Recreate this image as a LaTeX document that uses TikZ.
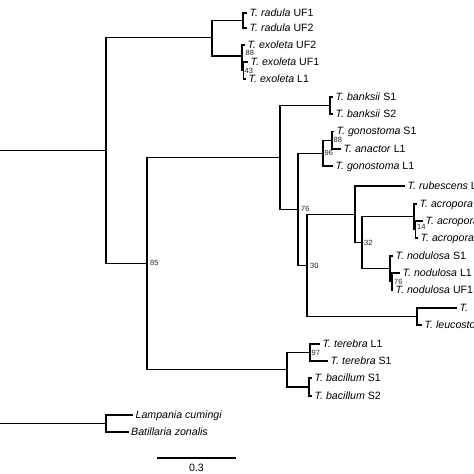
\documentclass[tikz,border=0pt]{standalone}
\usepackage{fontspec}
\setmainfont{Liberation Sans}
\usepackage{tikz}

\begin{document}
\begin{tikzpicture}[
    x=1pt, y=-1pt,
    branch/.style={draw, line width=1.25pt, line join=miter},
    taxon/.style={anchor=west, inner xsep=2.5pt, inner ysep=0pt, text height=7.5pt, text depth=1pt, font=\fontsize{10.6}{12}\selectfont},
    support/.style={anchor=west, inner sep=0pt, font=\fontsize{7.5}{9}\selectfont, text=black!85}
]

\useasboundingbox (0,0) rectangle (474,474);
\clip (0,0) rectangle (474,474);

%==============================================================================
% Root and outgroup
%==============================================================================
\coordinate (root) at (-3, 286.9);
\coordinate (ing) at (106, 150.4);
\coordinate (outg) at (106, 423.5);

\node[taxon] (lam) at (133, 415) {\textit{Lampania cumingi}};
\node[taxon] (bat) at (128.5, 432) {\textit{Batillaria zonalis}};

\draw[branch] (root) |- (ing);
\draw[branch] (root) |- (outg);
\draw[branch] (outg) |- (lam.west);
\draw[branch] (outg) |- (bat.west);

%==============================================================================
% T. radula / T. exoleta
%==============================================================================
\coordinate (radex) at (212, 37.5);
\coordinate (rad) at (243, 20.5);
\coordinate (exo) at (242, 56);
\coordinate (exin) at (243.5, 70.5);

\node[taxon] (rUF1) at (247, 13) {\textit{T. radula} UF1};
\node[taxon] (rUF2) at (247, 28) {\textit{T. radula} UF2};
\node[taxon] (eUF2) at (245, 45) {\textit{T. exoleta} UF2};
\node[taxon] (eUF1) at (248, 62) {\textit{T. exoleta} UF1};
\node[taxon] (eL1) at (246, 79) {\textit{T. exoleta} L1};

\draw[branch] (ing) |- (radex);
\draw[branch] (radex) |- (rad);
\draw[branch] (radex) |- (exo);
\draw[branch] (rad) |- (rUF1.west);
\draw[branch] (rad) |- (rUF2.west);
\draw[branch] (exo) |- (eUF2.west);
\draw[branch] (exo) |- (exin);
\draw[branch] (exin) |- (eUF1.west);
\draw[branch] (exin) |- (eL1.west);

\node[support, xshift=3.5pt, yshift=3pt] (s88e) at (exo) {88};
\node[support, xshift=1pt] (s43) at (exin) {43};

%==============================================================================
% Main clade (85)
%==============================================================================
\coordinate (n85) at (147, 263.4);
\coordinate (nA) at (280, 157.4);
\coordinate (ban) at (330, 105.5);
\coordinate (n76) at (298, 209.4);
\coordinate (gon) at (323, 153.3);
\coordinate (gonin) at (332, 140.5);

\draw[branch] (ing) |- (n85);
\draw[branch] (n85) |- (nA);
\draw[branch] (nA) |- (ban);
\draw[branch] (nA) |- (n76);
\draw[branch] (n76) |- (gon);
\draw[branch] (gon) |- (gonin);

\node[taxon] (bS1) at (333, 97) {\textit{T. banksii} S1};
\node[taxon] (bS2) at (333, 114) {\textit{T. banksii} S2};
\node[taxon] (gS1) at (334, 131.5) {\textit{T. gonostoma} S1};
\node[taxon] (aL1) at (341, 149) {\textit{T. anactor} L1};
\node[taxon] (gL1) at (333, 166) {\textit{T. gonostoma} L1};

\draw[branch] (ban) |- (bS1.west);
\draw[branch] (ban) |- (bS2.west);
\draw[branch] (gonin) |- (gS1.west);
\draw[branch] (gonin) |- (aL1.west);
\draw[branch] (gon) |- (gL1.west);

\node[support, xshift=3pt] (s85) at (n85) {85};
\node[support, xshift=3pt] (s76a) at (n76) {76};
\node[support, xshift=1.5pt] (s96) at (gon) {96};
\node[support, xshift=1.5pt, yshift=1pt] (s88g) at (gonin) {88};

%==============================================================================
% Clade 30: rubescens, acropora, nodulosa, leucostoma
%==============================================================================
\coordinate (n30) at (307, 265.5);
\coordinate (nB) at (355, 214.4);
\coordinate (n32) at (362, 242.8);
\coordinate (acr) at (414, 216.8);
\coordinate (acin) at (415.5, 229.5);
\coordinate (nod) at (390, 268.8);
\coordinate (nodin) at (392, 281.5);
\coordinate (leuc) at (417, 316.5);

\draw[branch] (n76) |- (n30);
\draw[branch] (n30) |- (nB);
\draw[branch] (n30) |- (leuc);
\draw[branch] (nB) |- (n32);
\draw[branch] (n32) |- (acr);
\draw[branch] (n32) |- (nod);
\draw[branch] (acr) |- (acin);
\draw[branch] (nod) |- (nodin);

\node[taxon] (rub) at (405, 186) {\textit{T. rubescens} L1};
\node[taxon] (ac1) at (417, 204) {\textit{T. acropora}};
\node[taxon] (ac2) at (423, 221) {\textit{T. acropora}};
\node[taxon] (ac3) at (418, 238) {\textit{T. acropora}};
\node[taxon] (nS1) at (393, 256) {\textit{T. nodulosa} S1};
\node[taxon] (nL1) at (400, 273) {\textit{T. nodulosa} L1};
\node[taxon] (nUF1) at (393, 290) {\textit{T. nodulosa} UF1};
\node[taxon] (tX) at (457, 308) {\textit{T.}};
\node[taxon] (leu) at (422, 325) {\textit{T. leucostoma}};

\draw[branch] (nB) |- (rub.west);
\draw[branch] (acr) |- (ac1.west);
\draw[branch] (acin) |- (ac2.west);
\draw[branch] (acin) |- (ac3.west);
\draw[branch] (nod) |- (nS1.west);
\draw[branch] (nodin) |- (nL1.west);
\draw[branch] (nodin) |- (nUF1.west);
\draw[branch] (leuc) |- (tX.west);
\draw[branch] (leuc) |- (leu.west);

\node[support, xshift=3pt] (s30) at (n30) {30};
\node[support, xshift=2pt] (s32) at (n32) {32};
\node[support, xshift=1.5pt, yshift=3pt] (s14) at (acin) {14};
\node[support, xshift=2pt] (s76b) at (nodin) {76};

%==============================================================================
% T. terebra / T. bacillum
%==============================================================================
\coordinate (tb) at (287, 369.4);
\coordinate (ter) at (310, 352.5);
\coordinate (bac) at (309, 387);

\draw[branch] (n85) |- (tb);
\draw[branch] (tb) |- (ter);
\draw[branch] (tb) |- (bac);

\node[taxon] (tL1) at (320, 344) {\textit{T. terebra} L1};
\node[taxon] (tS1) at (328, 361) {\textit{T. terebra} S1};
\node[taxon] (baS1) at (312, 378) {\textit{T. bacillum} S1};
\node[taxon] (baS2) at (312, 396) {\textit{T. bacillum} S2};

\draw[branch] (ter) |- (tL1.west);
\draw[branch] (ter) |- (tS1.west);
\draw[branch] (bac) |- (baS1.west);
\draw[branch] (bac) |- (baS2.west);

\node[support, xshift=1.5pt] (s97) at (ter) {97};

%==============================================================================
% Scale bar
%==============================================================================
\coordinate (sbl) at (157, 458);
\coordinate (sbr) at (236, 458);
\draw[branch] (sbl) -- (sbr);
\node[font=\fontsize{10.6}{12}\selectfont] (sblab) at (196.5, 468) {0.3};

\end{tikzpicture}
\end{document}
